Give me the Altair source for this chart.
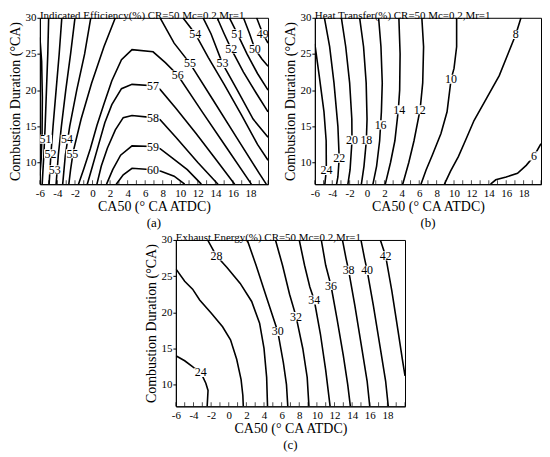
import altair as alt
import pandas as pd

FONT = "Liberation Serif"

X_DOMAIN = [-6, 20]
Y_DOMAIN = [7, 30]
X_TICKS = [-6, -4, -2, 0, 2, 4, 6, 8, 10, 12, 14, 16, 18]
X_MINOR = list(range(-6, 21))
Y_TICKS = [10, 15, 20, 25, 30]

# ---------- (a) Indicated efficiency contours (x = CA50, y = duration) ----------
A_50 = [(-6, 27.3), (-5.8, 24), (-5.72, 19), (-5.75, 14), (-5.85, 10.5), (-6, 8.2)]
A_51 = [(-5.0, 30), (-5.1, 25), (-5.25, 20), (-5.4, 15), (-5.55, 11), (-5.74, 7)]
A_52 = [(-3.5, 30), (-3.8, 25), (-4.15, 20), (-4.5, 15), (-4.75, 11), (-4.95, 7)]
A_53 = [(-2.0, 30), (-2.5, 25), (-3.05, 20), (-3.55, 15), (-3.9, 11), (-4.15, 7)]
A_54L = [(-0.2, 30), (-0.9, 25), (-1.8, 20), (-2.6, 15), (-3.1, 11), (-3.4, 7)]
A_55L = [(2.6, 30), (1.3, 26), (-0.1, 21), (-1.3, 16), (-2.2, 11.5), (-2.5, 9), (-2.7, 7)]
A_55R = [(7.7, 30), (9.3, 26.5), (11.1, 23.7), (13.7, 18.7), (16.5, 13.3), (19.0, 8.5), (19.8, 7)]
A_56 = [(-1.6, 7), (-1.0, 9.1), (-0.25, 11.9), (0.5, 15.1), (1.3, 18.1), (2.2, 21.3), (3.3, 24.2),
        (4.5, 25.6), (6.9, 25.3), (8.3, 23.8), (9.7, 22.1), (12.5, 17), (15.3, 12), (18.1, 7)]
A_57 = [(-0.6, 7), (0.0, 9.5), (0.7, 12.5), (1.4, 15.5), (2.2, 18), (3.3, 20.2), (4.5, 20.8),
        (6.9, 20.6), (7.7, 20.1), (9.5, 17.5), (11.8, 14), (14, 10.5), (16.2, 7)]
A_58 = [(0.5, 7), (1.0, 9.5), (1.7, 12), (2.6, 14.5), (3.5, 16.2), (4.5, 16.5), (6.9, 16.2),
        (7.7, 15.9), (9.5, 13.5), (12, 10), (14.3, 7)]
A_59 = [(1.6, 7), (2.3, 9), (3.2, 11), (4.5, 12.3), (6.9, 12.2), (7.7, 11.9), (9, 10.7),
        (10.8, 9), (12.4, 7)]
A_60 = [(2.7, 7), (3.5, 8.3), (4.5, 9.2), (6.9, 9.0), (7.8, 8.8), (9.3, 8.1), (10.5, 7)]
A_54R = [(10.3, 30), (11.7, 27.8), (13.2, 24.5), (15, 20.8), (17, 16.5), (18.8, 12.5), (20, 10.3)]
A_53R = [(12.6, 30), (13.5, 27.8), (14.8, 23.7), (16.5, 20), (18.3, 16), (20, 13.5)]
A_52R = [(14.2, 30), (15.0, 27.8), (15.8, 25.7), (17.2, 22.5), (18.7, 19.5), (20, 17)]
A_51R = [(15.6, 30), (16.5, 27.8), (17.6, 25), (18.8, 22.3), (20, 20)]
A_50R = [(17.2, 30), (17.9, 27.8), (18.5, 25.7), (19.3, 24.3), (20, 23.3)]
A_49R = [(18.7, 30), (19.4, 27.8), (20, 26.5)]
A_LINES = {"50": A_50, "51": A_51, "52": A_52, "53": A_53, "54L": A_54L, "55L": A_55L,
           "55R": A_55R, "56": A_56, "57": A_57, "58": A_58, "59": A_59, "60": A_60,
           "54R": A_54R, "53R": A_53R, "52R": A_52R, "51R": A_51R, "50R": A_50R, "49R": A_49R}
A_LABELS = [("51", -5.35, 13.2), ("52", -4.8, 11.2), ("53", -4.3, 9.0), ("54", -2.9, 13.2),
            ("55", -2.3, 11.2), ("57", 6.9, 20.6), ("58", 6.9, 16.2), ("59", 6.9, 12.2),
            ("60", 6.9, 9.0), ("56", 9.7, 22.1), ("55", 11.1, 23.7), ("54", 11.7, 27.8),
            ("53", 14.8, 23.7), ("52", 15.8, 25.7), ("51", 16.5, 27.8), ("50", 18.5, 25.7),
            ("49", 19.4, 27.8)]
A_HEAD = "Indicated Efficiency(%) CR=50 Mc=0.2,Mr=1"

# ---------- (b) Heat transfer ----------
B_24 = [(-6, 26.4), (-5.5, 22), (-4.95, 17), (-4.7, 13), (-4.68, 9), (-4.85, 7)]
B_22 = [(-4.9, 30), (-4.3, 26), (-3.8, 21), (-3.35, 15), (-3.2, 10.6), (-3.35, 8), (-3.5, 7)]
B_20 = [(-2.95, 30), (-2.45, 26), (-2.0, 21), (-1.75, 16), (-1.73, 13), (-1.95, 9), (-2.2, 7)]
B_18 = [(-0.85, 30), (-0.4, 26), (-0.1, 21), (0.0, 16), (-0.08, 13), (-0.35, 9.5), (-0.65, 7)]
B_16 = [(1.33, 30), (1.6, 26), (1.75, 21), (1.65, 17), (1.45, 13), (1.1, 9.5), (0.68, 7)]
B_14 = [(3.66, 30), (3.8, 25), (3.75, 20), (3.6, 17.3), (3.2, 13), (2.7, 10), (2.1, 7)]
B_12 = [(6.3, 30), (6.5, 26), (6.4, 21), (6.1, 17.3), (5.4, 13), (4.8, 10), (4.1, 7)]
B_10 = [(10.3, 30), (10.3, 26), (10.0, 23), (9.66, 21.5), (9.2, 17), (8.5, 14), (7.5, 11),
        (6.8, 9), (6.2, 7)]
B_8 = [(17.7, 30), (17.1, 27.7), (16.2, 25), (15.2, 22), (13.8, 19), (12.3, 15.8), (11.3, 13),
       (10.5, 10.8), (9.6, 8.8), (8.9, 7)]
B_6 = [(14.2, 7), (14.8, 7.6), (16, 8.0), (17.3, 8.5), (18.3, 9.6), (19.2, 10.9), (20, 12.6)]
B_LINES = {"24": B_24, "22": B_22, "20": B_20, "18": B_18, "16": B_16, "14": B_14,
           "12": B_12, "10": B_10, "8": B_8, "6": B_6}
B_LABELS = [("24", -4.66, 8.9), ("22", -3.2, 10.6), ("20", -1.73, 13.1), ("18", -0.08, 13.1),
            ("16", 1.56, 15.2), ("14", 3.7, 17.3), ("12", 6.05, 17.3), ("10", 9.66, 21.5),
            ("8", 17.1, 27.7), ("6", 19.2, 10.9)]
B_HEAD = "Heat Transfer(%) CR=50 Mc=0.2,Mr=1"

# ---------- (c) Exhaust energy ----------
C_24 = [(-6, 14), (-5.0, 13.3), (-4.0, 12.4), (-3.18, 11.7), (-2.6, 10.2), (-2.35, 9.2), (-2.45, 7)]
C_26 = [(-6, 26), (-5, 24.3), (-4.1, 23.2), (-3.3, 21.7), (-2.0, 19.9), (-0.7, 18), (0.2, 16.2),
        (0.9, 13.5), (1.4, 10.7), (1.6, 8.5), (1.65, 7)]
C_28 = [(-2.4, 30), (-1.4, 27.8), (-0.2, 26.2), (1.3, 24), (2.6, 21.5), (3.5, 18.5), (4.0, 15),
        (4.3, 11), (4.4, 7)]
C_30 = [(2.1, 30), (3.1, 26.5), (4.3, 22), (5.56, 17.35), (6.2, 13), (6.55, 10), (6.7, 7)]
C_32 = [(5.3, 30), (6.1, 26.5), (6.9, 22.5), (7.64, 19.4), (8.4, 15), (8.9, 11), (9.1, 7)]
C_34 = [(8.0, 30), (8.6, 26.5), (9.2, 23.5), (9.7, 21.7), (10.4, 17), (11.0, 12), (11.5, 7)]
C_36 = [(10.5, 30), (11.0, 26.5), (11.6, 23.7), (12.3, 19), (13.0, 14), (13.5, 10), (13.8, 7)]
C_38 = [(12.9, 30), (13.3, 27.5), (13.6, 25.8), (14.3, 21), (15.1, 15), (15.7, 10.5), (16.0, 7)]
C_40 = [(15.0, 30), (15.4, 27.5), (15.7, 25.8), (16.4, 21), (17.2, 15), (17.8, 10.5), (18.1, 7)]
C_42 = [(17.2, 30), (17.8, 27.8), (18.5, 23), (19.2, 17.5), (19.7, 13.5), (20, 11.2)]
C_LINES = {"24": C_24, "26": C_26, "28": C_28, "30": C_30, "32": C_32, "34": C_34,
           "36": C_36, "38": C_38, "40": C_40, "42": C_42}
C_LABELS = [("28", -1.4, 27.8), ("24", -3.18, 11.7), ("30", 5.56, 17.35), ("32", 7.64, 19.4),
            ("34", 9.7, 21.7), ("36", 11.6, 23.7), ("38", 13.6, 25.8), ("40", 15.7, 25.8),
            ("42", 17.8, 27.8)]
C_HEAD = "Exhaust Energy(%) CR=50 Mc=0.2,Mr=1"

BOX = "M-1,-0.7L1,-0.7L1,0.7L-1,0.7Z"


def line_frame(lines):
    rows = []
    for seg, pts in lines.items():
        for i, (x, y) in enumerate(pts):
            rows.append({"seg": seg, "i": i, "x": x, "y": y})
    return pd.DataFrame(rows)


def panel(lines, labels, heading, tag, w, h):
    xs = alt.Scale(domain=X_DOMAIN, nice=False, zero=False)
    ys = alt.Scale(domain=Y_DOMAIN, nice=False, zero=False)
    xax = alt.Axis(values=X_TICKS, title="CA50 (° CA ATDC)", ticks=False, labelPadding=3,
                   labelExpr="'' + datum.value", grid=False, titlePadding=1)
    yax = alt.Axis(values=Y_TICKS, title="Combustion Duration (°CA)", tickSize=3,
                   labelPadding=1, titlePadding=2, grid=False)
    X = lambda: alt.X("x:Q", scale=xs, axis=xax)
    Y = lambda: alt.Y("y:Q", scale=ys, axis=yax)

    base_lines = alt.Chart(line_frame(lines)).mark_line(
        color="black", strokeWidth=1.6, clip=True
    ).encode(x=X(), y=Y(), detail="seg:N", order="i:Q")

    lab = pd.DataFrame(labels, columns=["t", "x", "y"])
    boxes = alt.Chart(lab).mark_point(
        shape=BOX, size=169, filled=True, color="white", opacity=1, strokeWidth=0, clip=True
    ).encode(x=X(), y=Y())
    texts = alt.Chart(lab).mark_text(
        font=FONT, fontSize=12, color="black", clip=True
    ).encode(x=X(), y=Y(), text="t:N")

    minor = alt.Chart(pd.DataFrame({"x": X_MINOR})).mark_tick(
        color="black", size=4, thickness=1
    ).encode(x=X(), y=alt.value(h - 2))

    head = alt.Chart(pd.DataFrame({"t": [heading]})).mark_text(
        align="left", baseline="alphabetic", font=FONT, fontSize=11, color="black"
    ).encode(x=alt.value(0), y=alt.value(1), text="t:N")

    return alt.layer(base_lines, boxes, texts, minor, head).properties(
        width=w, height=h,
        title=alt.TitleParams(tag, orient="bottom", font=FONT, fontSize=13,
                              fontWeight="normal", offset=4, color="black"),
    )


pa = panel(A_LINES, A_LABELS, A_HEAD, "(a)", 229, 167)
pb = panel(B_LINES, B_LABELS, B_HEAD, "(b)", 227, 167)
pc = panel(C_LINES, C_LABELS, C_HEAD, "(c)", 230, 167)

top = alt.hconcat(pa, pb, spacing=14)
chart = alt.vconcat(top, pc, spacing=0, center=True).properties(padding=0).configure_view(
    stroke="black", strokeWidth=1
).configure_axis(
    domainColor="black", tickColor="black", labelColor="black", titleColor="black",
    labelFont=FONT, labelFontSize=11, titleFont=FONT, titleFontSize=14,
    titleFontWeight="normal", labelFlush=False
)

chart.save("out.html", embed_options={"renderer": "svg", "actions": False})
